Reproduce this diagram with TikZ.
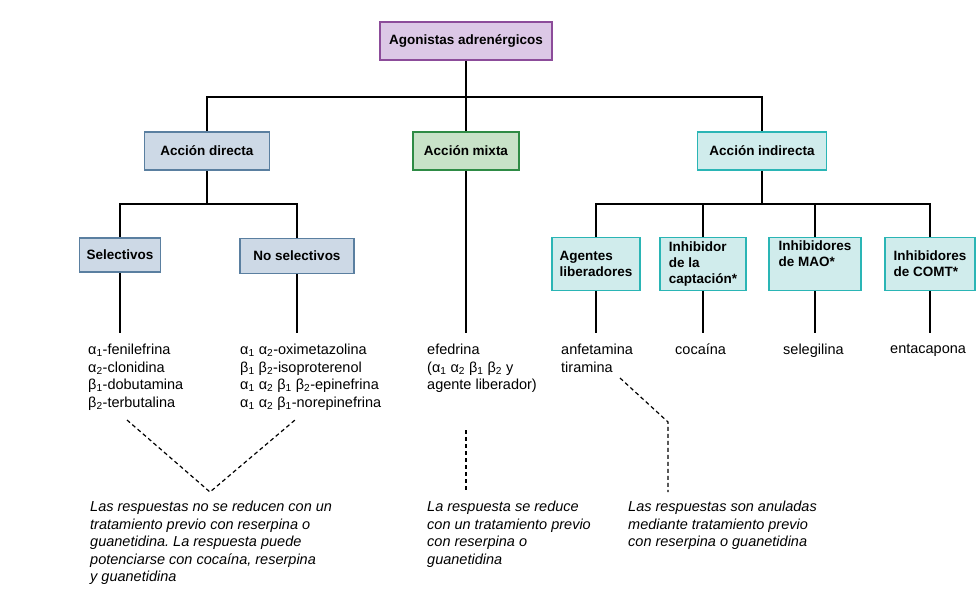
\documentclass[tikz,border=0pt]{standalone}
\usepackage{fontspec}
\setmainfont{Liberation Sans}
\frenchspacing
\newcommand{\al}[1]{α\textsubscript{#1}}
\newcommand{\be}[1]{β\textsubscript{#1}}
\begin{document}
\begin{tikzpicture}[x=1pt,y=-1pt,
 box/.style={draw, line width=1.6pt, font=\fontsize{13.5}{16}\selectfont\bfseries, inner sep=0pt, minimum height=38pt, align=left},
 pur/.style={box, draw={rgb,255:red,140;green,76;blue,154}, fill={rgb,255:red,220;green,200;blue,230}},
 blu/.style={box, draw={rgb,255:red,90;green,127;blue,160}, fill={rgb,255:red,205;green,217;blue,230}},
 grn/.style={box, draw={rgb,255:red,46;green,139;blue,69}, fill={rgb,255:red,200;green,226;blue,200}},
 cya/.style={box, draw={rgb,255:red,42;green,181;blue,181}, fill={rgb,255:red,208;green,236;blue,236}},
 ln/.style={line width=1.8pt},
 txt/.style={anchor=north west, align=left, inner sep=0pt, font=\fontsize{14.5}{17.5}\selectfont},
 itx/.style={txt, font=\fontsize{14.5}{17.5}\selectfont\itshape},
 dsh/.style={line width=1.2pt, dash pattern=on 4pt off 3pt}]
\useasboundingbox (0,0) rectangle (980,590);
\node[pur, minimum width=172pt] (top) at (466,41) {Agonistas adrenérgicos};
\node[blu, minimum width=125pt] (dir) at (207,151) {Acción directa};
\node[grn, minimum width=106pt] (mix) at (466,151) {Acción mixta};
\node[cya, minimum width=129pt] (ind) at (762,151) {Acción indirecta};
\node[blu, minimum width=81pt, minimum height=34pt] (sel) at (120,255) {Selectivos};
\node[blu, minimum width=114pt, minimum height=35pt] (nos) at (297,256) {No selectivos};
\node[cya, minimum width=88pt, minimum height=53pt] (lib) at (596,264) {Agentes\\liberadores};
\node[cya, minimum width=86pt, minimum height=53pt] (cap) at (703,264) {Inhibidor\\de la\\captación*};
\node[cya, minimum width=92pt, minimum height=53pt] (mao) at (815,264) {Inhibidores\\de MAO*\\[4pt]};
\node[cya, minimum width=90pt, minimum height=53pt] (comt) at (930,264) {Inhibidores\\de COMT*};

\coordinate (b1) at (466,97);
\draw[ln] (top.south) -- (mix.north);
\draw[ln] (dir.north) |- (b1) -| (ind.north);
\coordinate (b2) at (207,204);
\draw[ln] (dir.south) -- (b2);
\draw[ln, line width=2.4pt] (sel.north) |- (b2) -| (nos.north);
\coordinate (b3) at (762,204);
\draw[ln] (ind.south) -- (b3);
\draw[ln, line width=2.4pt] (lib.north) |- (b3) -| (comt.north);
\draw[ln] (cap.north) -- (cap.north |- b3);
\draw[ln] (mao.north) -- (mao.north |- b3);

\node[txt] (t1) at (88,344) {\al1-fenilefrina\\\al2-clonidina\\\be1-dobutamina\\\be2-terbutalina};
\node[txt] (t2) at (240,344) {\al1 \al2-oximetazolina\\\be1 \be2-isoproterenol\\\al1 \al2 \be1 \be2-epinefrina\\\al1 \al2 \be1-norepinefrina};
\node[txt] (t3) at (427,344) {efedrina\\(\al1 \al2 \be1 \be2 y\\agente liberador)};
\node[txt] (t4) at (561,344) {anfetamina\\tiramina};
\node[txt] (t5) at (675,344) {cocaína};
\node[txt] (t6) at (783,344) {selegilina};
\node[txt] (t7) at (890,344) {entacapona};

\coordinate (s1) at (120,333); \coordinate (s2) at (297,333);
\draw[ln] (sel.south) -- (s1);
\draw[ln] (nos.south) -- (s2);
\draw[ln] (mix.south) -- (466,333);
\draw[ln] (lib.south) -- (596,333);
\draw[ln] (cap.south) -- (703,333);
\draw[ln] (mao.south) -- (815,333);
\draw[ln] (comt.south) -- (930,333);

\coordinate (d1) at (127,420); \coordinate (d2) at (210,492); \coordinate (d3) at (295,420);
\draw[dsh] (d1) -- (d2) -- (d3);
\coordinate (e1) at (466,430); \coordinate (e2) at (466,492);
\draw[dsh] (e1) -- (e2);
\coordinate (f1) at (620,378); \coordinate (f2) at (668,422); \coordinate (f3) at (668,492);
\draw[dsh] (f1) -- (f2) -- (f3);

\node[itx] (i1) at (90,501) {Las respuestas no se reducen con un\\tratamiento previo con reserpina o\\guanetidina. La respuesta puede\\potenciarse con cocaína, reserpina\\y guanetidina};
\node[itx] (i2) at (427,501) {La respuesta se reduce\\con un tratamiento previo\\con reserpina o\\guanetidina};
\node[itx] (i3) at (628,501) {Las respuestas son anuladas\\mediante tratamiento previo\\con reserpina o guanetidina};
\end{tikzpicture}
\end{document}
